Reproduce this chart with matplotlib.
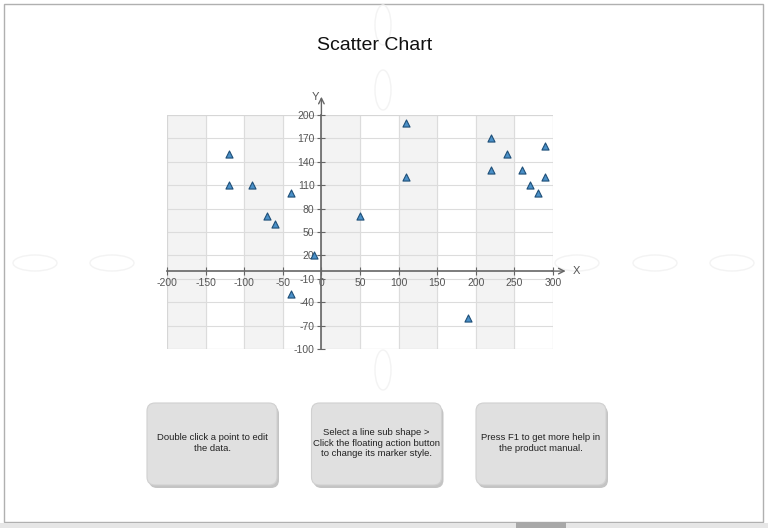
import matplotlib
matplotlib.use('Agg')
import matplotlib.pyplot as plt
from matplotlib.patches import FancyBboxPatch, Ellipse, Rectangle

plt.rcParams['font.family'] = ['Liberation Sans', 'DejaVu Sans']
plt.rcParams['axes.unicode_minus'] = False

# data
xs = [-120, -120, -90, -70, -60, -40, -10, 50, 110, 110,
      220, 240, 220, 260, 290, 270, 280, 290, -40, 190]
ys = [150, 110, 110, 70, 60, 100, 20, 70, 190, 120,
      170, 150, 130, 130, 160, 110, 100, 120, -30, -60]
x_ticks = [-200, -150, -100, -50, 0, 50, 100, 150, 200, 250, 300]
y_ticks = [-100, -70, -40, -10, 20, 50, 80, 110, 140, 170, 200]
notes = ["Double click a point to edit\nthe data.",
         "Select a line sub shape >\nClick the floating action button\nto change its marker style.",
         "Press F1 to get more help in\nthe product manual."]

W, H = 768, 528
fig = plt.figure(figsize=(W / 100, H / 100), dpi=100)
fig.patch.set_facecolor('white')

# page frame and faint decoration
bg = fig.add_axes([0, 0, 1, 1])
bg.set_xlim(0, W)
bg.set_ylim(H, 0)
bg.axis('off')
bg.add_patch(Rectangle((4, 4), 759, 518, fill=False, ec='#b0b0b0', lw=1))
bg.add_patch(Rectangle((0, 523), W, 5, fc='#e6e6e6', ec='none'))
bg.add_patch(Rectangle((516, 522), 50, 6, fc='#a8a8a8', ec='none'))
for cx in [35, 112, 577, 655, 732]:
    bg.add_patch(Ellipse((cx, 263), 44, 16, fill=False, ec='#f3f3f3', lw=1))
for cy in [25, 90, 370]:
    bg.add_patch(Ellipse((383, cy), 16, 40, fill=False, ec='#f3f3f3', lw=1))

bg.text(375, 45, "Scatter Chart", fontsize=14, ha='center', va='center', color='#111111')

# note boxes
for i, txt in enumerate(notes):
    x0 = 147 + i * 164.5
    bg.add_patch(FancyBboxPatch((x0 + 2, 406), 130, 82, boxstyle="round,pad=0,rounding_size=8",
                                fc='#c4c4c4', ec='none'))
    bg.add_patch(FancyBboxPatch((x0, 403), 130, 82, boxstyle="round,pad=0,rounding_size=8",
                                fc='#e0e0e0', ec='#d0d0d0', lw=0.8))
    bg.text(x0 + 65, 443, txt, fontsize=6.8, ha='center', va='center',
            color='#222222', linespacing=1.2)

# chart area
l, r, t, b = 167, 553, 115, 349
ax = fig.add_axes([l / W, 1 - b / H, (r - l) / W, (b - t) / H])
ax.set_xlim(-200, 300)
ax.set_ylim(-100, 200)
ax.set_facecolor('white')

for i in range(0, len(x_ticks) - 1, 2):
    ax.axvspan(x_ticks[i], x_ticks[i + 1], color='#f3f3f3', zorder=0)
for v in x_ticks:
    ax.axvline(v, color='#dcdcdc', lw=0.8, zorder=1)
for v in y_ticks:
    ax.axhline(v, color='#dcdcdc', lw=0.8, zorder=1)

for s in ['top', 'right']:
    ax.spines[s].set_visible(False)
ax.spines['left'].set_position(('data', 0))
ax.spines['bottom'].set_position(('data', 0))
for s in ['left', 'bottom']:
    ax.spines[s].set_color('#666666')
    ax.spines[s].set_linewidth(1.2)
ax.add_patch(Rectangle((0, 0), 1, 1, transform=ax.transAxes, fill=False,
                       ec='#d6d6d6', lw=0.8, zorder=1))

ax.set_xticks(x_ticks)
ax.set_yticks(y_ticks)
ax.tick_params(direction='inout', length=6, width=0.8, color='#666666',
               labelsize=7.5, labelcolor='#555555', pad=2)

# axis arrows
ax.annotate('', xy=(1.04, 0.333), xytext=(0.99, 0.333), xycoords='axes fraction',
            arrowprops=dict(arrowstyle='->', color='#666666', lw=1), annotation_clip=False)
ax.annotate('', xy=(0.4, 1.09), xytext=(0.4, 0.99), xycoords='axes fraction',
            arrowprops=dict(arrowstyle='->', color='#666666', lw=1), annotation_clip=False)
ax.text(1.06, 0.333, 'X', transform=ax.transAxes, fontsize=8, color='#555555',
        ha='center', va='center')
ax.text(0.385, 1.075, 'Y', transform=ax.transAxes, fontsize=8, color='#555555',
        ha='center', va='center')

ax.scatter(xs, ys, marker='^', s=26, c='#4a90c8', edgecolors='#1f4f78',
           linewidths=0.8, zorder=5, clip_on=False)

fig.savefig('out.png', dpi=100)
